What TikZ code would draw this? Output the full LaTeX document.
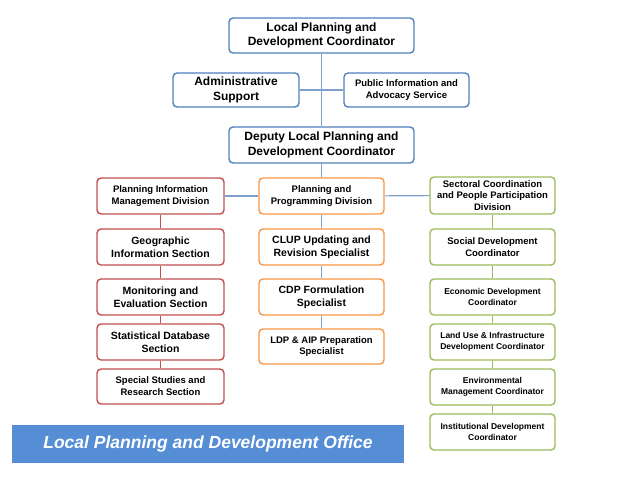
\documentclass[tikz,border=0pt]{standalone}
\usepackage{fontspec}
\setmainfont{Liberation Sans}
\definecolor{lpblue}{HTML}{4F81BD}
\definecolor{lpred}{HTML}{C0504D}
\definecolor{lporange}{HTML}{F79646}
\definecolor{lpgreen}{HTML}{9BBB59}
\definecolor{lpline}{HTML}{7F9FCB}
\definecolor{lpbanner}{HTML}{558ED5}
\newcommand{\fsbig}{\fontsize{12}{14.5}\selectfont}
\newcommand{\fsmid}{\fontsize{10.5}{12.8}\selectfont}
\newcommand{\fssmall}{\fontsize{9.5}{11.8}\selectfont}
\newcommand{\fstiny}{\fontsize{8.5}{11}\selectfont}
\tikzset{
	box/.style={draw, rounded corners=4pt, line width=1.4pt, fill=white, align=center, inner sep=0pt},
	headbox/.style={box, draw=lpblue, minimum height=35pt},
	pimdbox/.style={box, draw=lpred, minimum width=127pt, minimum height=36pt},
	ppdbox/.style={box, draw=lporange, minimum width=125pt, minimum height=36pt},
	scbox/.style={box, draw=lpgreen, minimum width=125pt, minimum height=36pt},
	link/.style={draw=lpline, line width=1.1pt},
}
\begin{document}
\begin{tikzpicture}[x=1pt,y=-1pt]
	\useasboundingbox (0,0) rectangle (638,478);
	% top of the office
	\node[headbox, minimum width=185pt, font=\fsbig\bfseries] (lpdc) at (321.5,35.5) {Local Planning and\\Development Coordinator};
	\node[headbox, minimum width=126pt, minimum height=34pt, font=\fsbig\bfseries] (admin) at (236,90) {Administrative\\Support};
	\node[headbox, minimum width=125pt, minimum height=34pt, font=\fssmall\bfseries] (pias) at (406.5,90) {Public Information and\\Advocacy Service};
	\node[headbox, minimum width=185pt, minimum height=36pt, font=\fsbig\bfseries] (dlpdc) at (321.5,145) {Deputy Local Planning and\\Development Coordinator};
	% planning information management division
	\node[pimdbox, font=\fssmall\bfseries] (pimd) at (160.5,196) {Planning Information\\Management Division};
	\node[pimdbox, font=\fsmid\bfseries] (gis) at (160.5,247) {Geographic\\Information Section};
	\node[pimdbox, font=\fsmid\bfseries] (mes) at (160.5,297) {Monitoring and\\Evaluation Section};
	\node[pimdbox, font=\fsmid\bfseries] (sds) at (160.5,342) {Statistical Database\\Section};
	\node[pimdbox, minimum height=35pt, font=\fssmall\bfseries] (ssrs) at (160.5,386.5) {Special Studies and\\Research Section};
	% planning and programming division
	\node[ppdbox, font=\fssmall\bfseries] (ppd) at (321.5,196) {Planning and\\Programming Division};
	\node[ppdbox, font=\fsmid\bfseries] (clup) at (321.5,247) {CLUP Updating and\\Revision Specialist};
	\node[ppdbox, font=\fsmid\bfseries] (cdp) at (321.5,297) {CDP Formulation\\Specialist};
	\node[ppdbox, minimum height=35pt, font=\fssmall\bfseries] (ldp) at (321.5,346.5) {LDP \& AIP Preparation\\Specialist};
	% sectoral coordination division
	\node[scbox, minimum height=37pt, font=\fssmall\bfseries] (scd) at (492.5,195.5) {Sectoral Coordination\\and People Participation\\Division};
	\node[scbox, font=\fssmall\bfseries] (sdc) at (492.5,247) {Social Development\\Coordinator};
	\node[scbox, font=\fstiny\bfseries] (edc) at (492.5,297) {Economic Development\\Coordinator};
	\node[scbox, font=\fstiny\bfseries] (luidc) at (492.5,342) {Land Use \& Infrastructure\\Development Coordinator};
	\node[scbox, font=\fstiny\bfseries] (emc) at (492.5,387) {Environmental\\Management Coordinator};
	\node[scbox, font=\fstiny\bfseries] (idc) at (492.5,432) {Institutional Development\\Coordinator};
	% connectors
	\draw[link] (lpdc) -- (dlpdc);
	\draw[link] (admin) -- (pias);
	\draw[link] (dlpdc) -- (ppd);
	\draw[link] (pimd) -- (ppd);
	\draw[link] (ppd) -- (scd);
	\draw[link] (ppd) -- (clup);
	\draw[link] (clup) -- (cdp);
	\draw[link] (cdp) -- (ldp);
	\foreach \a/\b in {pimd/gis, gis/mes, mes/sds, sds/ssrs}
		\draw[draw=lpred, line width=1.1pt] (\a) -- (\b);
	\foreach \a/\b in {scd/sdc, sdc/edc, edc/luidc, luidc/emc, emc/idc}
		\draw[draw=lpgreen, line width=1.1pt] (\a) -- (\b);
	% banner
	\node[fill=lpbanner, minimum width=392pt, minimum height=38pt, inner sep=0pt, text=white, font=\fontsize{17.5}{20}\selectfont\bfseries\itshape] (office) at (208,444) {Local Planning and Development Office};
\end{tikzpicture}
\end{document}
